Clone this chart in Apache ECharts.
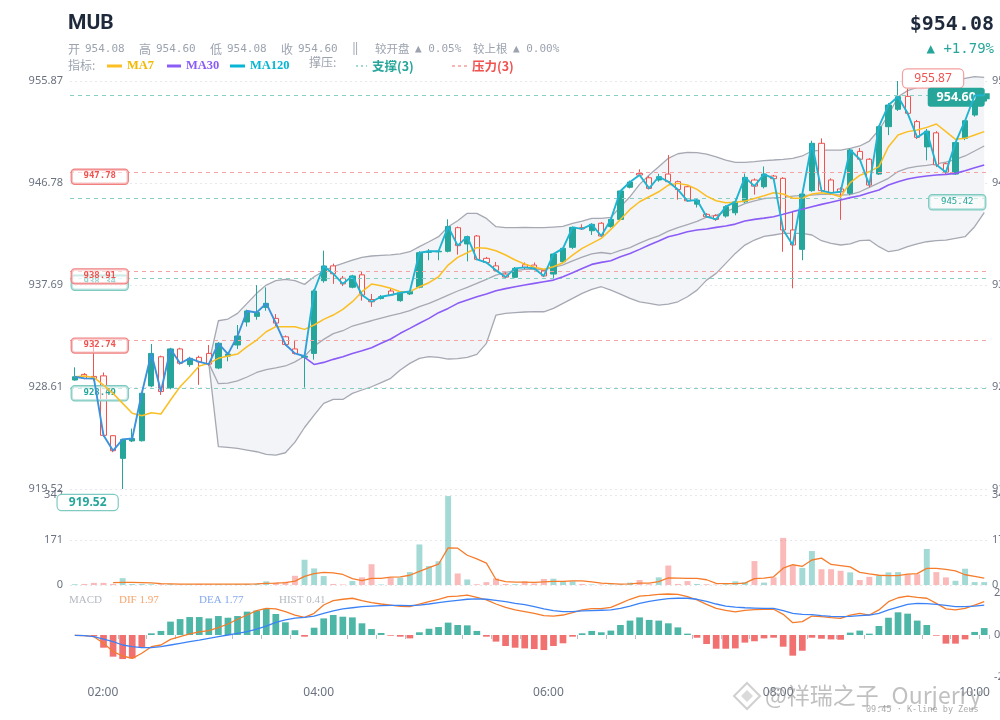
<!DOCTYPE html>
<html><head><meta charset="utf-8">
<script src="https://cdn.jsdelivr.net/npm/echarts@6/dist/echarts.min.js"></script>
<style>html,body{margin:0;padding:0;background:#fff;}#c{width:1000px;height:720px;}</style>
</head><body><div id="c"></div>
<script>
const times = ['01:50','01:55',
'02:00','02:05','02:10','02:15','02:20','02:25','02:30','02:35','02:40','02:45','02:50','02:55',
'03:00','03:05','03:10','03:15','03:20','03:25','03:30','03:35','03:40','03:45','03:50','03:55',
'04:00','04:05','04:10','04:15','04:20','04:25','04:30','04:35','04:40','04:45','04:50','04:55',
'05:00','05:05','05:10','05:15','05:20','05:25','05:30','05:35','05:40','05:45','05:50','05:55',
'06:00','06:05','06:10','06:15','06:20','06:25','06:30','06:35','06:40','06:45','06:50','06:55',
'07:00','07:05','07:10','07:15','07:20','07:25','07:30','07:35','07:40','07:45','07:50','07:55',
'08:00','08:05','08:10','08:15','08:20','08:25','08:30','08:35','08:40','08:45','08:50','08:55',
'09:00','09:05','09:10','09:15','09:20','09:25','09:30','09:35','09:40','09:45'];

const opens = [929.23,929.73,929.55,929.60,924.27,922.25,923.80,923.82,928.70,931.30,
928.54,932.00,930.60,931.25,931.60,930.30,931.36,932.35,934.40,934.90,
935.70,934.72,933.08,932.00,931.25,931.60,938.08,939.40,938.30,937.50,
938.60,936.40,936.50,937.16,936.30,936.90,937.50,940.60,940.65,940.70,
942.80,941.35,942.06,940.07,939.40,938.67,938.38,939.50,939.47,939.00,
938.67,939.77,941.05,942.80,942.53,943.20,942.90,943.54,946.40,947.64,
947.25,947.05,947.58,946.90,946.45,944.90,943.99,943.87,943.84,944.13,
945.11,947.05,946.45,947.40,947.20,942.60,940.87,946.10,950.32,947.05,
946.25,945.86,949.60,948.90,947.58,951.80,953.35,954.50,952.25,950.00,
951.25,948.50,947.58,950.76,952.84,954.08];
const closes = [929.52,929.38,929.35,924.30,922.93,923.94,924.02,928.05,931.60,928.20,
932.00,930.72,931.16,930.85,930.65,932.50,931.54,933.15,935.38,935.25,
936.06,934.30,932.40,931.60,931.35,937.16,939.39,938.70,937.80,938.50,
936.80,936.20,936.65,936.80,937.00,937.12,940.57,940.70,940.70,942.90,
941.20,942.00,939.98,939.70,939.00,938.40,939.18,939.27,939.17,938.50,
940.45,940.96,942.83,942.70,943.10,942.06,943.54,946.07,946.87,947.49,
946.30,947.34,946.90,946.20,945.20,945.26,943.78,943.54,944.67,945.10,
947.28,946.50,947.58,947.17,942.60,941.26,945.80,950.32,946.10,945.90,
946.00,949.72,948.90,946.60,951.80,953.73,954.47,952.99,950.85,951.40,
948.40,947.75,950.38,952.33,954.58,954.60];
const lows = [929.17,929.30,929.15,924.20,922.80,919.52,923.70,923.75,928.60,927.90,
928.40,930.60,930.40,928.80,930.50,930.20,930.90,932.00,934.00,934.60,
935.40,934.00,932.30,931.50,928.55,931.05,937.90,937.80,937.60,937.40,
936.30,935.75,936.40,936.70,936.20,936.80,937.40,939.90,939.90,940.60,
940.40,939.80,939.90,939.60,938.90,938.30,938.30,939.10,939.00,938.40,
938.30,939.70,940.90,942.60,942.15,942.00,942.80,943.50,946.30,947.40,
946.20,946.90,946.80,945.30,945.10,944.60,943.70,943.40,943.70,943.90,
945.00,945.75,946.30,947.00,940.66,937.40,939.90,946.00,946.00,945.70,
943.50,945.70,948.80,946.40,947.50,951.05,953.20,952.90,950.70,948.80,
948.20,947.50,947.50,950.60,952.70,954.08];
const highs = [930.36,929.85,932.74,929.90,924.30,924.00,924.90,928.10,932.44,931.40,
932.10,932.10,931.30,931.40,932.35,932.60,931.70,934.13,935.50,937.69,
937.48,935.10,933.20,932.80,931.60,937.30,940.75,939.60,938.50,938.60,
938.90,936.90,936.80,937.40,937.10,937.20,940.70,940.90,940.80,943.55,
942.90,942.10,942.15,940.20,939.75,938.80,939.30,939.70,939.70,939.10,
940.55,941.00,942.90,943.10,943.20,943.30,943.60,946.10,947.00,948.00,
947.40,947.60,949.27,947.00,946.55,945.40,944.10,944.00,944.80,945.30,
947.62,947.20,948.25,947.50,947.30,944.20,945.90,950.55,950.76,947.20,
946.40,949.85,949.90,949.00,951.90,953.90,955.87,955.20,952.40,951.60,
951.40,948.60,950.45,952.40,954.60,954.60];

const volumes = [3,4,8,8,4,26,4,4,3,3,
3,2,2,4,3,3,2,3,4,5,
14,9,12,35,96,63,34,4,2,15,
29,79,2,27,28,49,154,72,90,338,
44,21,3,11,25,4,3,14,6,23,
24,14,14,4,2,2,2,3,9,19,
3,29,74,4,15,4,3,2,3,14,
11,91,9,29,179,75,65,129,60,60,
54,48,19,31,35,48,49,41,41,137,
49,29,16,62,11,11];

const ma7 = [929.52,929.58,929.46,928.78,928.04,927.15,926.26,926.05,926.32,926.20,
927.45,928.63,929.52,930.47,930.71,931.16,931.37,931.54,932.20,932.79,
933.53,933.98,933.98,933.98,933.74,934.13,934.63,935.02,935.52,936.21,
937.10,937.78,937.63,937.40,937.10,937.10,937.54,937.90,938.43,939.47,
940.16,940.57,941.02,940.96,940.75,940.37,939.92,939.56,939.27,939.09,
939.32,939.68,940.36,940.96,941.40,941.85,942.65,943.54,944.43,945.11,
945.56,946.00,946.60,946.75,946.60,946.21,945.62,945.20,945.03,945.06,
945.17,945.41,945.65,945.92,945.80,945.42,945.42,945.80,945.92,945.80,
945.56,946.81,947.46,947.79,948.24,950.02,951.06,951.36,951.50,951.74,
952.04,951.36,950.67,950.76,951.06,951.36];

const ma30 = [null,null,null,null,null,null,null,null,null,null,
null,null,null,null,null,null,null,null,null,null,null,null,null,null,
931.25,930.62,930.80,931.07,931.31,931.60,931.84,932.11,932.50,932.88,
933.39,933.83,934.28,934.72,935.23,935.61,936.06,936.36,936.65,936.89,
937.19,937.37,937.54,937.69,937.84,937.99,938.13,938.43,938.79,939.17,
939.53,939.71,939.86,940.21,940.51,940.87,941.25,941.61,942.00,942.20,
942.44,942.59,942.68,942.83,942.95,943.12,943.39,943.54,943.65,943.78,
943.99,944.23,944.44,944.67,944.88,945.06,945.27,945.48,945.65,945.92,
946.16,946.60,946.90,947.14,947.29,947.41,947.50,947.55,947.64,947.88,948.15,948.39];

const bollUpper = [null,null,null,null,null,null,null,null,null,null,null,null,null,null,
930.71,
934.51,934.66,935.17,936.06,936.95,937.69,938.08,938.20,938.08,937.75,
938.43,938.94,939.33,939.62,939.92,940.16,940.28,940.34,940.37,940.46,
940.66,941.11,941.55,942.00,942.89,943.42,944.08,944.08,943.63,942.89,
942.80,942.80,942.83,942.80,942.80,942.86,942.92,943.18,943.39,943.63,
943.63,943.72,944.67,945.56,946.66,947.49,948.23,948.98,949.39,949.51,
949.48,949.36,949.12,948.83,948.62,948.62,948.68,948.78,948.83,948.89,
948.98,949.19,949.63,949.72,949.72,949.72,949.87,950.08,950.52,951.50,
952.84,954.47,955.01,955.31,955.51,955.66,955.81,955.96,956.11,956.26,956.20];
const bollMid = [null,null,null,null,null,null,null,null,null,null,null,null,null,null,
930.71,
928.90,928.95,929.15,929.50,929.90,930.15,930.31,930.48,930.85,931.35,
932.25,932.85,933.36,933.62,934.04,934.28,934.51,934.75,934.96,935.17,
935.41,935.76,936.06,936.42,936.80,937.16,937.48,937.84,938.20,938.58,
938.82,938.97,939.09,939.10,939.06,939.24,939.49,939.84,940.17,940.47,
940.59,940.48,940.78,941.03,941.43,941.78,942.07,942.49,942.80,943.08,
943.36,943.75,943.93,944.23,944.57,944.94,945.19,945.40,945.45,945.50,
945.62,945.68,945.71,945.77,945.80,945.70,945.75,946.00,946.40,946.80,
947.20,947.80,948.10,948.27,948.36,948.48,948.65,948.89,949.19,949.63,950.08];
const bollLower = [null,null,null,null,null,null,null,null,null,null,null,null,null,null,
930.71,
923.29,923.23,923.14,922.99,922.84,922.60,922.54,922.75,923.70,925.00,
926.10,927.15,927.50,927.50,928.04,928.34,928.63,928.99,929.38,930.12,
930.71,931.16,931.31,931.25,931.10,931.13,931.25,931.52,932.50,935.02,
935.17,935.23,935.29,935.32,935.31,935.61,936.06,936.50,936.95,937.30,
937.54,937.24,936.89,936.50,936.20,936.06,935.91,936.00,936.20,936.65,
937.24,938.13,938.73,939.62,940.51,941.25,941.70,942.03,942.15,942.30,
942.30,942.30,942.15,941.64,941.41,941.26,941.35,941.64,941.70,941.11,
940.66,940.81,941.11,941.35,941.55,941.64,941.70,941.85,942.00,942.89,944.14];

const volMa5 = [null,null,null,null,
9,10,10,9,8,5,4,3,3,3,
3,3,3,3,3,4,6,7,9,15,
33,43,48,46,40,24,17,25,25,30,
31,37,52,66,79,141,140,113,99,83,
21,13,11,11,10,12,14,14,16,16,
12,7,5,3,4,7,7,13,27,26,
25,25,20,6,5,5,7,24,26,31,
64,77,71,95,102,78,74,69,48,42,
37,36,36,41,43,63,63,59,54,39,33,26];

const dif = [-0.02,-0.04,-0.10,-0.49,-0.98,-1.24,-1.38,-1.08,-0.69,-0.59,
-0.26,-0.10,0.06,0.18,0.26,0.43,0.65,0.93,1.18,1.44,
1.57,1.54,1.38,1.18,1.04,1.28,1.77,2.03,2.11,2.17,
2.03,1.91,1.83,1.77,1.69,1.67,1.83,1.97,2.11,2.26,
2.30,2.36,2.22,2.07,1.83,1.63,1.48,1.38,1.28,1.14,
1.12,1.18,1.32,1.48,1.56,1.56,1.63,1.87,2.11,2.30,
2.34,2.40,2.42,2.40,2.26,2.07,1.81,1.57,1.46,1.36,
1.46,1.50,1.52,1.52,1.22,0.73,0.79,1.12,1.08,1.02,
0.98,1.18,1.28,1.18,1.48,1.97,2.20,2.30,2.22,2.17,
1.87,1.54,1.48,1.57,1.77,1.97];
const dea = [-0.02,-0.04,-0.10,-0.24,-0.39,-0.59,-0.69,-0.75,-0.75,-0.69,
-0.59,-0.49,-0.39,-0.30,-0.20,-0.10,0.00,0.10,0.20,0.35,
0.53,0.75,0.89,1.00,1.04,1.12,1.28,1.42,1.54,1.61,
1.67,1.71,1.73,1.75,1.75,1.73,1.77,1.83,1.91,1.99,
2.05,2.11,2.13,2.11,2.05,1.97,1.87,1.79,1.67,1.54,
1.44,1.38,1.38,1.42,1.44,1.46,1.48,1.57,1.71,1.87,
1.99,2.07,2.15,2.17,2.17,2.11,1.99,1.83,1.71,1.65,
1.61,1.59,1.57,1.57,1.44,1.28,1.22,1.20,1.14,1.10,
1.08,1.10,1.14,1.18,1.28,1.48,1.65,1.81,1.87,1.85,
1.81,1.75,1.67,1.67,1.71,1.77];
const hist = [0.00,-0.04,-0.08,-0.75,-1.28,-1.42,-1.38,-0.73,0.10,0.24,
0.79,0.94,1.06,1.06,0.98,1.12,1.02,1.12,1.38,1.44,
1.54,1.24,0.75,0.28,-0.10,0.43,0.98,1.18,1.08,1.04,
0.69,0.35,0.12,-0.04,-0.10,-0.20,0.16,0.37,0.47,0.73,
0.59,0.57,0.24,-0.10,-0.39,-0.65,-0.75,-0.79,-0.83,-0.89,
-0.65,-0.49,-0.10,0.10,0.24,0.16,0.26,0.59,0.85,1.04,
0.89,0.85,0.69,0.45,0.08,-0.16,-0.53,-0.81,-0.81,-0.79,
-0.45,-0.37,-0.20,-0.16,-0.69,-1.22,-0.93,-0.16,-0.22,-0.26,
-0.28,0.14,0.26,0.08,0.53,1.02,1.34,1.26,0.85,0.59,
-0.04,-0.51,-0.51,-0.26,0.18,0.41];

const supportLevels = [945.42, 938.34, 928.49];
const resistLevels = [947.78, 938.91, 932.74];
const priceRange = [919.52, 955.87];
const volMax = 342;
const macdMax = 2.48;
const lastPrice = 954.08;
const changePct = 1.79;
const xTickLabels = ['02:00','04:00','06:00','08:00','10:00'];

// ---------------- rendering ----------------
const N = times.length;
const last = N - 1;
const UP = '#26a69a', DOWN = '#ef5350';
const SUP_LINE = '#86cfc7', RES_LINE = '#f3a3a3';
const MONO = '"DejaVu Sans Mono", monospace';
const SANS = '"Noto Sans", "Noto Sans CJK SC", sans-serif';
const CJK = '"Noto Sans CJK SC", "Noto Sans", sans-serif';
const SERIF = '"Liberation Serif", serif';

const candleData = times.map((t, i) => [opens[i], closes[i], lows[i], highs[i]]);
const bandWidth = bollUpper.map((u, i) => (u == null ? null : +(u - bollLower[i]).toFixed(2)));
const volData = volumes.map((v, i) => ({
  value: v,
  itemStyle: { color: closes[i] >= opens[i] ? 'rgba(38,166,154,0.42)' : 'rgba(239,83,80,0.40)' }
}));
const histData = hist.map(v => ({ value: v, itemStyle: { color: v >= 0 ? '#4db6a6' : '#f07170' } }));
const emptyLine = times.map(() => null);

const labelIdx = [2, 26, 50, 74, 94];

function smallBox(color, border) {
  return {
    show: true, position: 'inside', color: color, fontFamily: MONO, fontSize: 9, fontWeight: 'bold',
    width: 52, height: 10, lineHeight: 10, align: 'center', verticalAlign: 'top',
    padding: [1, 2, 3, 2], backgroundColor: 'rgba(255,255,255,0.55)', borderColor: border,
    borderWidth: 1.2, borderRadius: 3,
    formatter: p => p.value.toFixed(2)
  };
}

const levelPoints = [];
supportLevels.forEach(v => {
  const right = v === supportLevels[0];
  levelPoints.push({
    coord: [right ? last : 0, v], value: v, symbol: 'circle', symbolSize: 1,
    itemStyle: { color: 'rgba(0,0,0,0)' },
    label: Object.assign(smallBox(UP, '#7fcbc2'), right ? { offset: [-27, -3], fontWeight: 'normal' } : { offset: [25, -2] })
  });
});
resistLevels.forEach(v => {
  levelPoints.push({
    coord: [0, v], value: v, symbol: 'circle', symbolSize: 1,
    itemStyle: { color: 'rgba(0,0,0,0)' },
    label: Object.assign(smallBox(DOWN, '#f08080'), { offset: [25, -2] })
  });
});

const maxHigh = Math.max.apply(null, highs);
const minLow = Math.min.apply(null, lows);
const iMax = highs.indexOf(maxHigh), iMin = lows.indexOf(minLow);

const tagPoints = [
  { coord: [iMax, maxHigh], value: maxHigh, symbol: 'circle', symbolSize: 1, itemStyle: { color: 'rgba(0,0,0,0)' },
    label: { show: true, position: 'inside', offset: [35, -2.5], formatter: p => p.value.toFixed(2),
      color: DOWN, fontFamily: SANS, fontSize: 12, width: 54, height: 16, lineHeight: 16, align: 'center',
      padding: [1, 3], backgroundColor: '#ffffff', borderColor: '#f3a0a0', borderWidth: 1.2, borderRadius: 4 } },
  { coord: [iMin, minLow], value: minLow, symbol: 'circle', symbolSize: 1, itemStyle: { color: 'rgba(0,0,0,0)' },
    label: { show: true, position: 'inside', offset: [-35, 13.5], formatter: p => p.value.toFixed(2),
      color: UP, fontFamily: SANS, fontSize: 12, fontWeight: 'bold', width: 54, height: 15, lineHeight: 15, align: 'center',
      padding: [0, 3], backgroundColor: '#ffffff', borderColor: '#7fcbc2', borderWidth: 1.2, borderRadius: 4 } },
  { coord: [last, closes[last]], value: closes[last], symbol: 'rect', symbolSize: [5, 6], symbolOffset: [3, 1],
    itemStyle: { color: UP },
    label: { show: true, position: 'inside', offset: [-31, 1], formatter: p => p.value.toFixed(2),
      color: '#ffffff', fontFamily: SANS, fontSize: 12.5, fontWeight: 'bold', width: 51, height: 17, lineHeight: 17, align: 'center',
      padding: [1, 3], backgroundColor: UP, borderRadius: 3 } }
];

const markLines = [];
markLines.push({ yAxis: closes[last], lineStyle: { color: SUP_LINE, type: [4, 4], width: 1 } });
supportLevels.forEach(v => markLines.push({ yAxis: v, lineStyle: { color: SUP_LINE, type: [4, 4], width: 1 } }));
resistLevels.forEach(v => markLines.push({ yAxis: v, lineStyle: { color: RES_LINE, type: [4, 4], width: 1 } }));

function txt(text, x, y, fill, font, align) {
  return { type: 'text', silent: true, z: 100,
    style: { text: text, x: x, y: y, fill: fill, font: font, textAlign: align || 'left', align: align || 'left',
      textVerticalAlign: 'middle', verticalAlign: 'middle' } };
}
function seg(x1, x2, y, color, width, dash) {
  return { type: 'line', silent: true, z: 100,
    shape: { x1: x1, y1: y, x2: x2, y2: y },
    style: { stroke: color, lineWidth: width, lineDash: dash || null } };
}

const GRAY = '#9ca3af';
const o = opens[last], h = highs[last], l = lows[last], c = closes[last];
const pctOpen = ((c - o) / o * 100).toFixed(2);
const pctPrev = ((c - closes[last - 1]) / closes[last - 1] * 100).toFixed(2);

const graphics = [
  txt('MUB', 68, 24, '#1e293b', 'bold 21px Roboto, "Noto Sans", sans-serif'),
  txt('$' + lastPrice.toFixed(2), 994, 25, '#1e293b', 'bold 20px ' + MONO, 'right'),
  txt('▲ +' + changePct.toFixed(2) + '%', 994, 49, UP, '14px ' + MONO, 'right'),
  txt('开', 68, 49, GRAY, '12px ' + CJK), txt(o.toFixed(2), 85, 49, GRAY, '11px ' + MONO),
  txt('高', 139, 49, GRAY, '12px ' + CJK), txt(h.toFixed(2), 156, 49, GRAY, '11px ' + MONO),
  txt('低', 210, 49, GRAY, '12px ' + CJK), txt(l.toFixed(2), 227, 49, GRAY, '11px ' + MONO),
  txt('收', 281, 49, GRAY, '12px ' + CJK), txt(c.toFixed(2), 298, 49, GRAY, '11px ' + MONO),
  txt('‖', 352, 49, GRAY, '12px ' + SANS),
  txt('较开盘', 375, 49, GRAY, '11.5px ' + CJK), txt('▲ ' + pctOpen + '%', 415, 49, GRAY, '11px ' + MONO),
  txt('较上根', 473, 49, GRAY, '11.5px ' + CJK), txt('▲ ' + pctPrev + '%', 513, 49, GRAY, '11px ' + MONO),
  txt('指标:', 68, 65, GRAY, '12px ' + CJK),
  seg(107, 122, 66, '#fbbf24', 3), txt('MA7', 127, 66, '#f5b800', 'bold 12.5px ' + SERIF),
  seg(167, 181, 66, '#8b5cf6', 3), txt('MA30', 186, 66, '#8b5cf6', 'bold 12.5px ' + SERIF),
  seg(230, 245, 66, '#06b6d4', 3), txt('MA120', 250, 66, '#06b6d4', 'bold 12.5px ' + SERIF),
  txt('撑压:', 309, 62, GRAY, '12px ' + CJK),
  seg(356, 367, 66, '#7fcbc2', 1.5, [2, 3]), txt('支撑(3)', 372, 66, UP, 'bold 12.5px ' + CJK),
  seg(452, 467, 66, '#f4a0a0', 1.5, [3, 3]), txt('压力(3)', 472, 66, DOWN, 'bold 12.5px ' + CJK),
  txt('MACD', 69, 600, '#b4b9c1', '11px ' + SERIF),
  txt('DIF ' + dif[last].toFixed(2), 119, 600, '#f5a46e', '11px ' + SERIF),
  txt('DEA ' + dea[last].toFixed(2), 199, 600, '#82a8ee', '11px ' + SERIF),
  txt('HIST ' + hist[last].toFixed(2), 279, 600, '#b4b9c1', '11px ' + SERIF),
  { type: 'polygon', silent: true, z: 100, shape: { points: [[747, 683], [760, 696], [747, 709], [734, 696]] },
    style: { fill: 'none', stroke: 'rgba(150,150,150,0.45)', lineWidth: 2 } },
  { type: 'polygon', silent: true, z: 100, shape: { points: [[747, 690], [753, 696], [747, 702], [741, 696]] },
    style: { fill: 'rgba(150,150,150,0.35)', stroke: 'none' } },
  txt('@祥瑞之子_Ourjerry', 765, 695, 'rgba(140,140,140,0.55)', '23px ' + CJK),
  txt('09:45 · K-line by Zeus', 866, 710, 'rgba(150,150,150,0.8)', '8.5px ' + MONO)
];

const axisLabelBase = { color: '#6b7280', fontSize: 11, fontFamily: SANS };
const gridBase = { left: 70, right: 11, containLabel: false, outerBoundsMode: 'none' };

const option = {
  animation: false,
  backgroundColor: '#ffffff',
  grid: [
    Object.assign({ top: 81, height: 408 }, gridBase),
    Object.assign({ top: 495, height: 90 }, gridBase),
    Object.assign({ top: 593, height: 84 }, gridBase)
  ],
  xAxis: [
    { type: 'category', gridIndex: 0, data: times, boundaryGap: true, show: false },
    { type: 'category', gridIndex: 1, data: times, boundaryGap: true, show: false },
    { type: 'category', gridIndex: 2, data: times, boundaryGap: true, offset: 3,
      axisLine: { show: false },
      axisTick: { show: true, length: 4, lineStyle: { color: '#b9bdc4' }, interval: (i) => i % 3 === 2 && i % 12 !== 2 },
      axisLabel: { show: true, color: '#6b7280', fontSize: 12, fontFamily: SANS, margin: 7,
        interval: (i) => labelIdx.indexOf(i) >= 0,
        formatter: (v, i) => {
          const k = labelIdx.indexOf(i);
          if (k < 0) return '';
          const t = xTickLabels[k];
          if (k === 0) return '{a|' + t + '}';
          if (k === labelIdx.length - 1) return '{c|' + t + '}';
          return '{b|' + t + '}';
        },
        rich: {
          a: { color: '#6b7280', fontSize: 12, fontFamily: SANS, padding: [0, 0, 0, 18] },
          b: { color: '#6b7280', fontSize: 12, fontFamily: SANS, padding: [0, 10, 0, 0] },
          c: { color: '#6b7280', fontSize: 12, fontFamily: SANS }
        } },
      splitLine: { show: false } }
  ],
  yAxis: [
    { type: 'value', gridIndex: 0, position: 'left', min: priceRange[0], max: priceRange[1],
      interval: (priceRange[1] - priceRange[0]) / 4,
      axisLine: { show: false }, axisTick: { show: false },
      axisLabel: Object.assign({}, axisLabelBase, { margin: 7, formatter: v => v.toFixed(2) }),
      splitLine: { show: true, lineStyle: { color: '#e6e8eb', type: [2, 3] } } },
    { type: 'value', gridIndex: 0, position: 'right', min: priceRange[0], max: priceRange[1],
      interval: (priceRange[1] - priceRange[0]) / 4,
      axisLine: { show: false }, axisTick: { show: false },
      axisLabel: Object.assign({}, axisLabelBase, { margin: 3, formatter: v => v.toFixed(2) }),
      splitLine: { show: false } },
    { type: 'value', gridIndex: 1, position: 'left', min: 0, max: volMax, interval: volMax / 2,
      axisLine: { show: false }, axisTick: { show: false },
      axisLabel: Object.assign({}, axisLabelBase, { margin: 7 }),
      splitLine: { show: true, lineStyle: { color: '#e6e8eb', type: [2, 3] } } },
    { type: 'value', gridIndex: 1, position: 'right', min: 0, max: volMax, interval: volMax / 2,
      axisLine: { show: false }, axisTick: { show: false },
      axisLabel: Object.assign({}, axisLabelBase, { margin: 3 }), splitLine: { show: false } },
    { type: 'value', gridIndex: 2, position: 'left', min: -macdMax, max: macdMax, interval: macdMax,
      axisLine: { show: false }, axisTick: { show: false }, axisLabel: { show: false }, splitLine: { show: false } },
    { type: 'value', gridIndex: 2, position: 'right', min: -macdMax, max: macdMax, interval: macdMax,
      axisLine: { show: false }, axisTick: { show: false },
      axisLabel: Object.assign({}, axisLabelBase, { margin: 5, formatter: v => v.toFixed(2) }), splitLine: { show: false } }
  ],
  series: [
    { name: 'bollBase', type: 'line', xAxisIndex: 0, yAxisIndex: 0, data: bollLower, stack: 'boll',
      symbol: 'none', lineStyle: { opacity: 0 }, silent: true, z: 1, clip: false },
    { name: 'bollBand', type: 'line', xAxisIndex: 0, yAxisIndex: 0, data: bandWidth, stack: 'boll',
      symbol: 'none', lineStyle: { opacity: 0 }, areaStyle: { color: '#f3f4f7', opacity: 1 }, silent: true, z: 1, clip: false },
    { name: 'BOLL上轨', type: 'line', xAxisIndex: 0, yAxisIndex: 0, data: bollUpper, symbol: 'none',
      lineStyle: { color: '#a6a9b3', width: 1.3 }, z: 2, clip: false },
    { name: 'BOLL中轨', type: 'line', xAxisIndex: 0, yAxisIndex: 0, data: bollMid, symbol: 'none',
      lineStyle: { color: '#a6a9b3', width: 1.3 }, z: 2, clip: false },
    { name: 'BOLL下轨', type: 'line', xAxisIndex: 0, yAxisIndex: 0, data: bollLower, symbol: 'none',
      lineStyle: { color: '#a6a9b3', width: 1.3 }, z: 2, clip: false },
    { name: 'K', type: 'candlestick', xAxisIndex: 0, yAxisIndex: 0, data: candleData, barWidth: '60%', z: 3,
      itemStyle: { color: UP, color0: '#fff8f8', borderColor: UP, borderColor0: DOWN, borderWidth: 1 } },
    { name: 'levels', type: 'line', xAxisIndex: 0, yAxisIndex: 0, data: emptyLine, symbol: 'none', silent: true, z: 4,
      markLine: { symbol: ['none', 'none'], silent: true, label: { show: false }, data: markLines },
      markPoint: { silent: true, data: levelPoints } },
    { name: 'MA7', type: 'line', xAxisIndex: 0, yAxisIndex: 0, data: ma7, symbol: 'none',
      lineStyle: { color: '#fbbf24', width: 1.5 }, z: 5 },
    { name: 'MA30', type: 'line', xAxisIndex: 0, yAxisIndex: 0, data: ma30, symbol: 'none',
      lineStyle: { color: '#8b5cf6', width: 1.6 }, z: 5 },
    { name: 'MA120', type: 'line', xAxisIndex: 0, yAxisIndex: 0, data: closes, symbol: 'none', z: 6,
      lineStyle: { width: 1.9, color: { type: 'linear', x: 0, y: 0, x2: 1, y2: 0,
        colorStops: [{ offset: 0, color: '#3a93dc' }, { offset: 0.25, color: '#3a93dc' },
                     { offset: 0.262, color: '#1fb4d2' }, { offset: 1, color: '#1fb4d2' }] } } },
    { name: 'tags', type: 'line', xAxisIndex: 0, yAxisIndex: 0, data: emptyLine, symbol: 'none', silent: true, z: 10,
      markPoint: { silent: true, data: tagPoints } },
    { name: 'VOL', type: 'bar', xAxisIndex: 1, yAxisIndex: 2, data: volData, barWidth: '62%', z: 2 },
    { name: 'VOL MA5', type: 'line', xAxisIndex: 1, yAxisIndex: 2, data: volMa5, symbol: 'none',
      lineStyle: { color: '#f57c2b', width: 1.3 }, z: 3 },
    { name: 'HIST', type: 'bar', xAxisIndex: 2, yAxisIndex: 4, data: histData, barWidth: '70%', z: 2 },
    { name: 'DIF', type: 'line', xAxisIndex: 2, yAxisIndex: 4, data: dif, symbol: 'none',
      lineStyle: { color: '#f57c2b', width: 1.3 }, z: 3 },
    { name: 'DEA', type: 'line', xAxisIndex: 2, yAxisIndex: 4, data: dea, symbol: 'none',
      lineStyle: { color: '#3b82f6', width: 1.3 }, z: 3 }
  ],
  graphic: graphics
};

const chart = echarts.init(document.getElementById('c'), null, { renderer: 'canvas', width: 1000, height: 720 });
chart.setOption(option);
</script>
</body></html>
